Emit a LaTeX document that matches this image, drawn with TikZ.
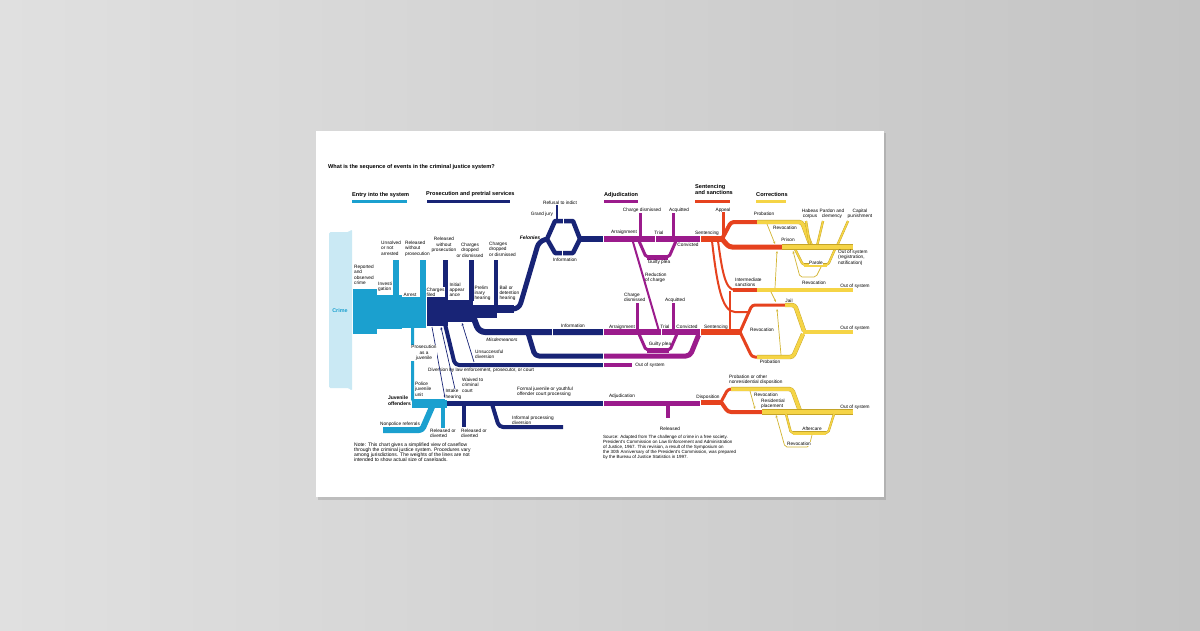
\documentclass[tikz,border=0pt]{standalone}
\usepackage{fontspec}
\setmainfont{Liberation Sans}
\usetikzlibrary{arrows.meta}
\definecolor{cLB}{RGB}{27,160,207}
\definecolor{cCrime}{RGB}{202,233,244}
\definecolor{cNavy}{RGB}{24,36,118}
\definecolor{cPur}{RGB}{155,27,140}
\definecolor{cOr}{RGB}{230,66,30}
\definecolor{cYel}{RGB}{245,212,70}
\definecolor{cYelD}{RGB}{196,164,40}
\definecolor{cYelT}{RGB}{210,180,50}
\tikzset{
  lab/.style={font=\fontsize{4.75}{5.3}\selectfont, inner sep=0pt, align=center, text=black},
  labl/.style={lab, align=left, anchor=north west},
  hdr/.style={font=\fontsize{5.6}{6.2}\selectfont\bfseries, inner sep=0pt, align=left},
  nav/.style={draw=cNavy, line width=#1, line join=round},
  lb/.style={draw=cLB, line width=#1, line join=round},
  pur/.style={draw=cPur, line width=#1, line join=round},
  org/.style={draw=cOr, line width=#1, line join=round},
  ylw/.style={draw=cYel, line width=#1pt, line join=round, preaction={draw=cYelD, line width=#1pt+0.8pt}},
  arw/.style={-{Stealth[length=2.6pt,width=2.2pt]}, line width=0.7pt},
  wtick/.style={draw=white, line width=0.8pt}
}
\begin{document}
\begin{tikzpicture}[x=1pt,y=-1pt]
\useasboundingbox (0,0) rectangle (1200,630);
% background
\shade[left color={rgb,255:red,224;green,224;blue,224}, right color={rgb,255:red,196;green,196;blue,196}] (0,0) rectangle (1200,630);
\fill[black, opacity=0.12] (318,133) rectangle (886,500);
\fill[white] (316,131) rectangle (884,497);

% title and headers
\node[hdr, anchor=west] (title) at (328,167) {What is the sequence of events in the criminal justice system?};
\node[hdr, anchor=west] (hEntry) at (352,195) {Entry into the system};
\node[hdr, anchor=west] (hPros) at (426,194) {Prosecution and pretrial services};
\node[hdr, anchor=west] (hAdj) at (604,195) {Adjudication};
\node[hdr, anchor=north west] (hSent) at (695,184) {Sentencing\\and sanctions};
\node[hdr, anchor=west] (hCorr) at (756,194) {Corrections};
\draw[cLB, line width=3pt] (352,201) -- (407,201);
\draw[cNavy, line width=3pt] (427,201) -- (510,201);
\draw[cPur, line width=3pt] (604,201) -- (638,201);
\draw[cOr, line width=3pt] (695,201) -- (730,201);
\draw[cYel, line width=3pt] (756,201) -- (786,201);

% crime box
\fill[cCrime, rounded corners=1.5pt] (329,232) -- (349,232) -- (352,229) -- (352,391) -- (349,388) -- (329,388) -- cycle;
\node[font=\fontsize{5.4}{6}\selectfont\bfseries, text=cLB, inner sep=0pt] (crime) at (340,311) {Crime};

% entry blocks
\fill[cLB] (353,289) rectangle (376.6,334);
\fill[cLB] (377.4,295) rectangle (401.6,329);
\fill[cLB] (402.4,297) rectangle (426,328);
\fill[cLB] (393,260) rectangle (399,296);
\fill[cLB] (420,260) rectangle (426,298);

% prosecution blocks
\fill[cNavy] (427,297) rectangle (447.6,326);
\fill[cNavy] (448.4,300) rectangle (472.6,322);
\fill[cNavy] (473.4,305) rectangle (497,318);
\fill[cNavy] (497,305) rectangle (514,313);
\fill[cNavy] (442.5,260) rectangle (447.5,298);
\fill[cNavy] (469,260) rectangle (474,301);
\fill[cNavy] (494,260) rectangle (498,306);

% misdemeanor and lower navy lines
\draw[nav=6pt, rounded corners=6pt] (473,316) -- (479,332) -- (603,332);
\draw[wtick] (552,328) -- (552,336);
\draw[nav=5pt, rounded corners=4pt] (528,333) -- (535,356) -- (603,356);
\draw[nav=4pt, rounded corners=4pt] (445,324) -- (455,365) -- (603,365);

% juvenile entry
\draw[lb=3pt, rounded corners=4pt] (412.5,328) -- (412.5,403) -- (440,403);
\fill[cLB] (412,399) rectangle (447,408);
\draw[lb=6pt, rounded corners=3pt] (383,430) -- (422,430) -- (432,407);
\draw[lb=4pt] (443,407) -- (443,428);
\draw[nav=5pt] (447,403) -- (603,403);
\draw[nav=4pt] (463.5,405) -- (463.5,427);
\draw[nav=4pt, rounded corners=4pt] (492,404) -- (499,427) -- (563,427);

% labels entry / prosecution
\node[labl] (lRep) at (354,265) {Reported\\and\\observed\\crime};
\node[labl] (lInv) at (378,282) {Investi\\gation};
\node[lab] (lArr) at (410,295) {Arrest};
\node[labl] (lUns) at (381,241) {Unsolved\\or not\\arrested};
\node[labl] (lRel1) at (405,241) {Released\\without\\prosecution};
\node[lab] (lRel2) at (444,245) {Released\\without\\prosecution};
\node[lab] (lChd1) at (470,250) {Charges\\dropped\\or dismissed};
\node[labl] (lChd2) at (489,242) {Charges\\dropped\\or dismissed};
\node[labl, fill=white, inner sep=0.4pt] (lChf) at (426,287) {Charges\\filed};
\node[labl, fill=white, inner sep=0.4pt] (lIni) at (449,282) {Initial\\appear\\ance};
\node[labl, fill=white, inner sep=0.4pt] (lPre) at (474,285) {Prelim\\inary\\hearing};
\node[labl, fill=white, inner sep=0.4pt] (lBail) at (499,285) {Bail or\\detention\\hearing};

% felony line and grand jury
\draw[nav=5pt, rounded corners=6pt] (510,309) -- (519,309) -- (539,241) -- (548,239);
\draw[nav=4.5pt] (547,239) -- (555,221) -- (573,221) -- (580,239) -- (573,253) -- (555,253) -- cycle;
\draw[nav=6pt] (580,239) -- (603,239);
\draw[wtick] (563,217) -- (563,225);
\draw[wtick] (562,249) -- (562,257);
\draw[nav=2pt] (557,205) -- (557,219);
\node[font=\fontsize{5}{6}\selectfont\bfseries\itshape, inner sep=0pt] (lFel) at (530,238) {Felonies};
\node[lab] (lGj) at (542,214) {Grand jury};
\node[lab] (lRef) at (560,203) {Refusal to indict};
\node[lab] (lInf1) at (565,260) {Information};
\node[lab] (lInf2) at (573,326) {Information};
\node[lab, font=\fontsize{4.75}{5.3}\selectfont\itshape] (lMis) at (502,340) {Misdemeanors};
\node[labl] (lUnsd) at (475,350) {Unsuccessful\\diversion};
\node[labl] (lDiv) at (428,368) {Diversion by law enforcement, prosecutor, or court};

% thin arrows juvenile
\draw[arw, cNavy] (474,362) -- (462,323);
\draw[arw, cNavy] (432,327) -- (445,398);
\draw[arw, cNavy] (457,398) -- (441,327);

\node[lab, fill=white, inner sep=0.3pt] (lPaj) at (424,353) {Prosecution\\as a\\juvenile};
\node[labl] (lPju) at (415,382) {Police\\juvenile\\unit};
\node[labl, fill=white, inner sep=0.3pt] (lInt) at (445,389) {Intake\\hearing};
\node[labl] (lWai) at (462,378) {Waived to\\criminal\\court};
\node[hdr, anchor=north east, font=\fontsize{5}{5.4}\selectfont\bfseries] (lJuv) at (411,396) {Juvenile\\offenders};
\node[lab] (lNon) at (400,424) {Nonpolice referrals};
\node[labl] (lRod1) at (430,429) {Released or\\diverted};
\node[labl] (lRod2) at (461,429) {Released or\\diverted};
\node[labl] (lFor) at (517,387) {Formal juvenile or youthful\\offender court processing};
\node[labl] (lInfd) at (512,416) {Informal processing\\diversion};

% adjudication purple
\draw[pur=6pt] (603,239) -- (700,239);
\draw[wtick] (655,235) -- (655,243);
\draw[pur=3pt] (640,213) -- (640,239);
\draw[pur=3pt] (673,213) -- (673,239);
\draw[pur=3pt, rounded corners=2pt] (639,241) -- (646,257) -- (669,257) -- (676,241);
\draw[pur=5pt] (647,257) -- (668,257);
\draw[pur=2pt] (633,242) -- (659,331);
\draw[pur=6pt] (603,332) -- (700,332);
\draw[wtick] (661,328) -- (661,336);
\draw[pur=3pt] (637,303) -- (637,332);
\draw[pur=3pt] (673,303) -- (673,332);
\draw[pur=3pt, rounded corners=2pt] (639,334) -- (646,350) -- (670,350) -- (677,334);
\draw[pur=5pt] (647,350) -- (669,350);
\draw[pur=5pt, rounded corners=4pt] (603,356) -- (690,356) -- (699,334);
\draw[pur=4pt] (603,365) -- (632,365);
\draw[pur=5pt] (603,403) -- (700,403);
\draw[pur=4pt] (668,403) -- (668,418);
\foreach \yy in {239,332,356,365,403} \draw[wtick] (603,\yy-4) -- (603,\yy+4);

\node[lab] (lArg1) at (624,232) {Arraignment};
\node[lab] (lCd1) at (642,210) {Charge dismissed};
\node[lab] (lAcq1) at (679,210) {Acquitted};
\node[lab] (lTr1) at (659,233) {Trial};
\node[lab] (lCv1) at (688,245) {Convicted};
\node[lab] (lGp1) at (659,262) {Guilty plea};
\node[labl] (lRed) at (645,273) {Reduction\\of charge};
\node[labl] (lCd2) at (624,293) {Charge\\dismissed};
\node[lab] (lAcq2) at (675,300) {Acquitted};
\node[lab] (lArg2) at (622,327) {Arraignment};
\node[lab] (lTr2) at (665,327) {Trial};
\node[lab] (lCv2) at (687,327) {Convicted};
\node[lab] (lSe2) at (716,327) {Sentencing};
\node[lab] (lGp2) at (660,344) {Guilty plea};
\node[lab] (lOos1) at (650,365) {Out of system};
\node[lab] (lAdj) at (622,396) {Adjudication};
\node[lab] (lRls) at (670,429) {Released};
\node[labl, font=\fontsize{4.5}{5}\selectfont] (lSrc) at (603,435) {Source: Adapted from The challenge of crime in a free society.\\President's Commission on Law Enforcement and Administration\\of Justice, 1967. This revision, a result of the Symposium on\\the 30th Anniversary of the President's Commission, was prepared\\by the Bureau of Justice Statistics in 1997.};
\node[labl, font=\fontsize{5}{5}\selectfont] (lNote) at (354,443) {Note: This chart gives a simplified view of caseflow\\through the criminal justice system. Procedures vary\\among jurisdictions. The weights of the lines are not\\intended to show actual size of caseloads.};

% sentencing orange
\draw[org=6pt] (700,239) -- (725,239);
\draw[org=3pt] (723,212) -- (723,237);
\draw[org=2pt] (712,241) .. controls (717,285) and (722,312) .. (735,312) -- (750,312);
\draw[org=2pt] (718,241) .. controls (722,270) and (725,290) .. (735,290);
\draw[org=2pt] (730,332) -- (730,291);
\draw[org=4pt, rounded corners=3pt] (722,239) -- (731,222) -- (757,222);
\draw[org=5pt, rounded corners=3pt] (722,239) -- (729,247) -- (782,247);
\draw[org=4pt] (733,290) -- (757,290);
\draw[org=6pt] (700,332) -- (742,332);
\draw[org=3pt, rounded corners=3pt] (740,332) -- (752,305) -- (785,305);
\draw[org=3pt, rounded corners=3pt] (740,332) -- (752,357) -- (757,357);
\draw[org=5pt] (700,402) -- (723,402);
\draw[org=3pt, rounded corners=3pt] (721,402) -- (728,389) -- (731,389);
\draw[org=4pt, rounded corners=3pt] (721,402) -- (728,412) -- (762,412);
\draw[wtick] (700,235) -- (700,243);
\draw[wtick] (700,328) -- (700,336);
\draw[wtick] (700,399) -- (700,406);

% corrections yellow
\draw[ylw=3.5, rounded corners=3pt] (757,222) -- (802,222) -- (811,246);
\draw[ylw=1.5] (810,246) -- (806,221);
\draw[ylw=1.5] (817,246) -- (823,221);
\draw[ylw=1.5] (837,246) -- (848,221);
\draw[ylw=1.5, rounded corners=2pt] (795,249) -- (803,265) -- (828,265) -- (835,249);
\draw[ylw=3] (804,265) -- (827,265);
\draw[ylw=4.5] (782,247) -- (853,247);
\draw[ylw=4] (757,290) -- (853,290);
\draw[ylw=3.5, rounded corners=3pt] (785,305) -- (795,305) -- (804,331);
\draw[ylw=3.5, rounded corners=3pt] (757,357) -- (793,357) -- (803,334);
\draw[ylw=4] (803,332) -- (853,332);
\draw[ylw=3.5, rounded corners=3pt] (731,389) -- (792,389) -- (800,411);
\draw[ylw=4.5] (762,412) -- (853,412);
\draw[ylw=1.5, rounded corners=2pt] (786,414) -- (791,433) -- (828,433) -- (834,414);
\draw[ylw=3] (793,433) -- (826,433);
% revocation arrows
\draw[arw, cYelT, rounded corners=2pt] (821,267) -- (816,277) -- (800,277) -- (793,251);
\draw[arw, cYelT] (767,224) -- (775,244);
\draw[arw, cYelT] (775,288) -- (777,251);
\draw[arw, cYelT] (771,292) -- (776,302);
\draw[arw, cYelT] (781,355) -- (777,309);
\draw[arw, cYelT] (750,391) -- (755,409);
\draw[arw, cYelT, rounded corners=2pt] (812,435) -- (809,447) -- (785,447) -- (776,415);

\node[lab] (lSe1) at (707,233) {Sentencing};
\node[lab] (lApp) at (723,210) {Appeal};
\node[lab] (lPrb1) at (764,214) {Probation};
\node[lab, fill=white, inner sep=0.3pt] (lRev1) at (785,228) {Revocation};
\node[lab] (lPri) at (788,240) {Prison};
\node[lab] (lHab) at (810,214) {Habeas\\corpus};
\node[lab] (lPar) at (832,214) {Pardon and\\clemency};
\node[lab] (lCap) at (860,214) {Capital\\punishment};
\node[labl] (lOos2) at (838,250) {Out of system\\(registration,\\notification)};
\node[lab, fill=white, inner sep=0.3pt] (lParo) at (816,263) {Parole};
\node[lab] (lRev2) at (814,283) {Revocation};
\node[labl] (lIms) at (735,278) {Intermediate\\sanctions};
\node[lab] (lOos3) at (855,286) {Out of system};
\node[lab] (lJail) at (789,301) {Jail};
\node[lab, fill=white, inner sep=0.3pt] (lRev3) at (762,330) {Revocation};
\node[lab] (lOos4) at (855,328) {Out of system};
\node[lab] (lPrb2) at (770,362) {Probation};
\node[lab] (lDis) at (708,397) {Disposition};
\node[labl] (lPon) at (729,375) {Probation or other\\nonresidential disposition};
\node[lab, fill=white, inner sep=0.3pt] (lRev4) at (766,395) {Revocation};
\node[labl] (lRes) at (761,399) {Residential\\placement};
\node[lab] (lOos5) at (855,407) {Out of system};
\node[lab, fill=white, inner sep=0.3pt] (lAft) at (812,429) {Aftercare};
\node[lab, fill=white, inner sep=0.3pt] (lRev5) at (799,444) {Revocation};
\end{tikzpicture}
\end{document}
